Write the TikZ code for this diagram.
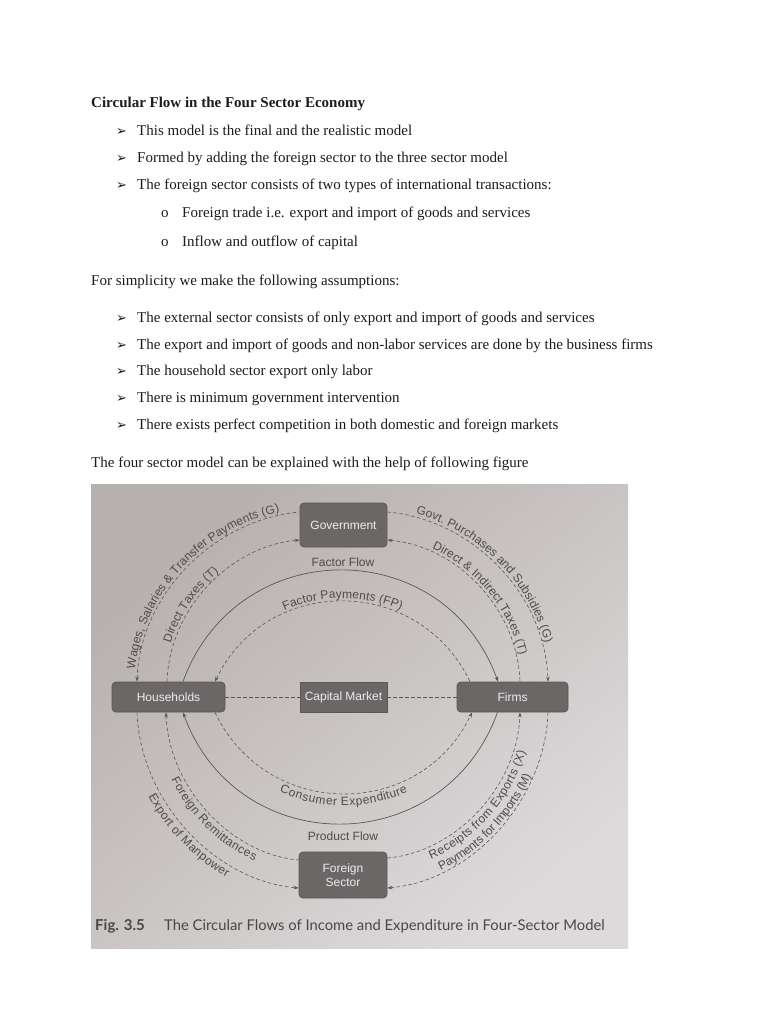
\documentclass[tikz,border=0pt]{standalone}
\usepackage{fontspec}
\setmainfont{Liberation Serif}
\newfontfamily\labelsans{Liberation Sans}
\newfontfamily\capsans{Lato}
\newfontfamily\arrowsym{DejaVu Sans}
\usepackage{tikz}
\usetikzlibrary{arrows.meta,decorations.text}
\definecolor{inkBlack}{HTML}{1C1C1C}
\definecolor{paperDark}{HTML}{B6B0AE}
\definecolor{paperLight}{HTML}{DEDADB}
\definecolor{boxGrey}{HTML}{6B6767}
\definecolor{boxEdge}{HTML}{5A5757}
\definecolor{boxText}{HTML}{EDEDED}
\definecolor{lineGrey}{HTML}{5A5757}
\definecolor{labelGrey}{HTML}{4F4B4B}
\definecolor{capGrey}{HTML}{4A4747}
\newcommand\lblfont{\labelsans\fontsize{12}{14}\selectfont}
\newcommand\txtfont{\fontsize{15}{18}\selectfont}

\begin{document}
\begin{tikzpicture}[x=1pt,y=-1pt,>={Stealth[length=5pt,width=3.6pt]},
  body/.style={anchor=base west,inner sep=0pt,text=inkBlack,font=\txtfont},
  arrowbullet/.style={anchor=base west,inner sep=0pt,text=inkBlack,font=\arrowsym\fontsize{13}{15}\selectfont},
  sector/.style={draw=boxEdge,line width=0.8pt,fill=boxGrey,rounded corners=4pt,text=boxText,font=\lblfont,inner sep=0pt,align=center},
  flow/.style={lineGrey,line width=0.6pt,dash pattern=on 3.5pt off 2.5pt},
  solidflow/.style={lineGrey,line width=0.7pt},
  along/.style n args={3}{postaction={decorate,decoration={text along path,text={|\lblfont|#1},text align={left indent=#2},raise=#3,text color=labelGrey}}},
  midalong/.style 2 args={postaction={decorate,decoration={text along path,text={|\lblfont|#1},text align=center,raise=#2,text color=labelGrey}}}]
\useasboundingbox (0,0) rectangle (768,1024);
\fill[white] (0,0) rectangle (768,1024);
% 1) heading and bullet points
\node[body,font=\bfseries\txtfont] (title) at (91,108) {Circular Flow in the Four Sector Economy};
\node[arrowbullet] (p1) at (116,136) {➢};
\node[body] (t1) at (137,136) {This model is the final and the realistic model};
\node[arrowbullet] (p2) at (116,163) {➢};
\node[body] (t2) at (137,163) {Formed by adding the foreign sector to the three sector model};
\node[arrowbullet] (p3) at (116,190) {➢};
\node[body] (t3) at (137,190) {The foreign sector consists of two types of international transactions:};
\node[body] (q1) at (161,218) {o};
\node[body] (s1) at (182,218) {Foreign trade i.e. export and import of goods and services};
\node[body] (q2) at (161,246) {o};
\node[body] (s2) at (182,246) {Inflow and outflow of capital};
\node[body] (intro) at (91,285) {For simplicity we make the following assumptions:};
\node[arrowbullet] (p4) at (116,322) {➢};
\node[body] (a1) at (137,322) {The external sector consists of only export and import of goods and services};
\node[arrowbullet] (p5) at (116,349) {➢};
\node[body] (a2) at (137,349) {The export and import of goods and non-labor services are done by the business firms};
\node[arrowbullet] (p6) at (116,375) {➢};
\node[body] (a3) at (137,375) {The household sector export only labor};
\node[arrowbullet] (p7) at (116,402) {➢};
\node[body] (a4) at (137,402) {There is minimum government intervention};
\node[arrowbullet] (p8) at (116,429) {➢};
\node[body] (a5) at (137,429) {There exists perfect competition in both domestic and foreign markets};
\node[body] (lead) at (91,467) {The four sector model can be explained with the help of following figure};
% 2) the photographed figure
\shade[top color=paperDark,bottom color=paperLight,shading angle=40] (91,484) rectangle (628,948);
\node[sector,minimum width=87pt,minimum height=44pt] (gov) at (343.5,525) {Government};
\node[sector,minimum width=113pt,minimum height=30pt] (hh) at (168.5,697) {Households};
\node[sector,rounded corners=0pt,minimum width=87pt,minimum height=30pt] (cap) at (343.5,697) {Capital Market};
\node[sector,minimum width=111pt,minimum height=30pt] (firm) at (512.5,697) {Firms};
\node[sector,minimum width=88pt,minimum height=46pt] (fs) at (343,875) {Foreign\\Sector};
\node[text=labelGrey,font=\lblfont] (ff) at (343,562) {Factor Flow};
\node[text=labelGrey,font=\lblfont] (pf) at (343,836) {Product Flow};
% inner loop
\draw[solidflow,->] ([xshift=14.5pt]hh.north) .. controls +(-70:158) and +(-110:158) .. ([xshift=-14.5pt]firm.north);
\draw[solidflow,->] ([xshift=-15pt]firm.south) .. controls +(110:158) and +(70:158) .. ([xshift=14.5pt]hh.south);
\draw[flow,<-,midalong={Factor Payments (FP)}{3pt}] ([xshift=46.5pt]hh.north) .. controls +(-64.3:119) and +(-115.7:119) .. ([xshift=-42.5pt]firm.north);
\draw[flow,->,midalong={Consumer Expenditure}{-12pt}] ([xshift=46.5pt]hh.south) .. controls +(64.5:120) and +(115.5:120) .. ([xshift=-40.5pt]firm.south);
\draw[flow] (hh) -- (cap);
\draw[flow] (cap) -- (firm);
% government
\draw[flow,<-,along={Wages, Salaries {\&} Transfer Payments (G)}{12pt}{3pt}] ([xshift=-31.5pt]hh.north) .. controls +(-88:88) and +(175:85) .. ([yshift=13pt]gov.west);
\draw[flow,->,along={Direct Taxes (T)}{38pt}{3pt}] ([xshift=-1.5pt]hh.north) .. controls +(-88:74) and +(175:69) .. ([yshift=-15pt]gov.west);
\draw[flow,->,along={Govt. Purchases and Subsidies (G)}{28pt}{3pt}] ([yshift=13pt]gov.east) .. controls +(5:85) and +(-92:88) .. ([xshift=35.5pt]firm.north);
\draw[flow,<-,along={Direct {\&} Indirect Taxes (T)}{45pt}{3pt}] ([yshift=-15pt]gov.east) .. controls +(5:69) and +(-92:74) .. ([xshift=7.5pt]firm.north);
% foreign sector
\draw[flow,->,along={Export of Manpower}{82pt}{-12pt}] ([xshift=-31.5pt]hh.south) .. controls +(88:88) and +(185:85) .. ([yshift=-13pt]fs.west);
\draw[flow,<-,along={Foreign Remittances}{64pt}{-12pt}] ([xshift=-2.5pt]hh.south) .. controls +(88:74) and +(185:69) .. ([yshift=15pt]fs.west);
\draw[flow,->,along={Receipts from Exports (X)}{40pt}{-12pt}] ([yshift=17pt]fs.east) .. controls +(-5:69) and +(92:74) .. ([xshift=7.5pt]firm.south);
\draw[flow,<-,along={Payments for Imports (M)}{57pt}{2.5pt}] ([yshift=-13pt]fs.east) .. controls +(-5:85) and +(92:88) .. ([xshift=35.5pt]firm.south);
% caption
\node[anchor=base west,inner sep=0pt,text=capGrey,font=\capsans\bfseries\fontsize{15}{18}\selectfont] (figno) at (95,930) {Fig. 3.5};
\node[anchor=base west,inner sep=0pt,text=capGrey,font=\capsans\fontsize{14.8}{18}\selectfont] (figcap) at (164,930) {The Circular Flows of Income and Expenditure in Four-Sector Model};
\end{tikzpicture}
\end{document}
